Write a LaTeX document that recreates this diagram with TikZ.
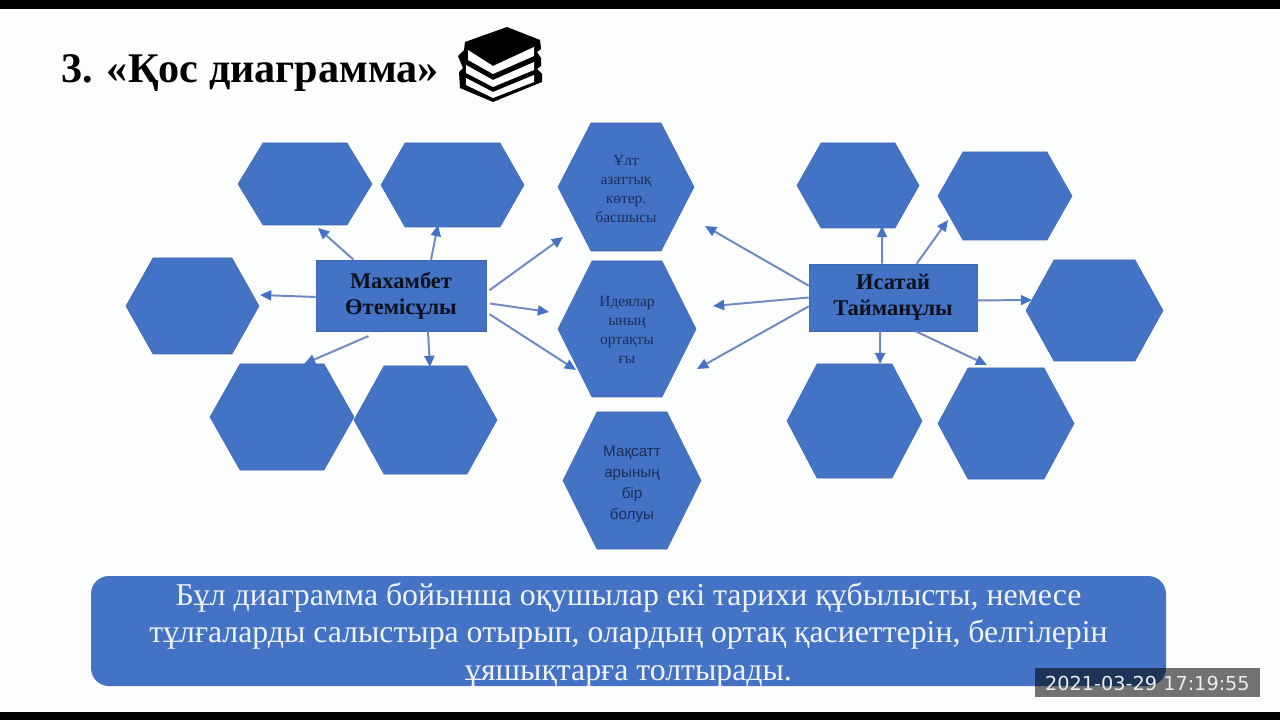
\documentclass[tikz,border=0pt]{standalone}
\usepackage{fontspec}
\setmainfont{Liberation Serif}
\newfontfamily\liberationsans{Liberation Sans}
\newfontfamily\stampfont{DejaVu Sans}
\usetikzlibrary{shapes.symbols, arrows.meta}
\definecolor{hexblue}{HTML}{4472C4}
\definecolor{hexedge}{HTML}{3F69B5}
\definecolor{linkblue}{HTML}{7089C0}
\definecolor{inktext}{HTML}{1B2F5E}
\definecolor{pagewhite}{HTML}{FCFEFD}
\tikzset{%
  every hexagon/.style={
    signal,
    signal to=east and west,
    draw=hexedge,
    fill=hexblue,
    inner sep=0pt,
    align=center
  },
  every namebox/.style={
    rectangle,
    draw=hexedge,
    fill=hexblue,
    align=center,
    text=black!85!hexblue,
    font=\fontsize{16pt}{18.5pt}\selectfont\bfseries
  },
  hexlabel/.style={
    align=center,
    text=inktext,
    font=\fontsize{11pt}{13.5pt}\selectfont
  },
  link/.style={
    -{Triangle[length=0.28cm, width=0.25cm, color=hexblue]},
    draw=linkblue,
    line width=1.4pt
  },
}

\begin{document}
\begin{tikzpicture}[x=0.025cm, y=-0.025cm]
\useasboundingbox (0,0) rectangle (1280,720);
\fill[pagewhite] (0,0) rectangle (1280,720);
\fill[black] (0,0) rectangle (1280,9);
\fill[black] (0,712) rectangle (1280,720);

\node [anchor=base west, inner sep=0pt, font=\fontsize{30pt}{32pt}\selectfont\bfseries] (title) at (61,83) {3. «Қос диаграмма»};

% Books
\fill[black] (465,42) -- (507,27) -- (540,40) -- (541,49) -- (537,52) -- (541,58) -- (541,66) -- (537,69) -- (542,74) -- (542,82) -- (493,102) -- (460,88) -- (459,72) -- (463,68) -- (458,56) -- (464,50) -- cycle;
\fill[white] (468,50) -- (493,66) -- (534,47) -- (534,56) -- (493,74) -- (468,60) -- cycle;
\fill[white] (466,65) -- (493,80) -- (534,62) -- (534,70) -- (493,87) -- (466,73) -- cycle;
\fill[white] (466,78) -- (493,92) -- (534,75) -- (534,82) -- (493,98) -- (466,85) -- cycle;

% Left hexagons
\foreach \m/\x/\y/\w/\h/\c in {1/305/184/134/82/25, 2/452.5/185/143/84/24, 3/192.5/306/133/96/27, 4/282/417/144/106/30, 5/425.5/420/143/108/30}
  \node [every hexagon, minimum width=\w*0.025cm, minimum height=\h*0.025cm, signal pointer angle={2*atan(\h/2/\c)}] (left-\m) at (\x,\y) {};

% Right hexagons
\foreach \m/\x/\y/\w/\h/\c in {1/858/185.5/122/85/24, 2/1005/196/134/88/25, 3/1094.5/310.5/137/101/28, 4/854.5/421/135/114/30, 5/1006/423.5/136/111/30}
  \node [every hexagon, minimum width=\w*0.025cm, minimum height=\h*0.025cm, signal pointer angle={2*atan(\h/2/\c)}] (right-\m) at (\x,\y) {};

% Middle hexagons
\foreach \m/\x/\y/\w/\h/\c in {1/626/187/136/128/33, 2/627/329/138/136/34, 3/632/480.5/138/137/34}
  \node [every hexagon, minimum width=\w*0.025cm, minimum height=\h*0.025cm, signal pointer angle={2*atan(\h/2/\c)}] (middle-\m) at (\x,\y) {};

\foreach \l/\x/\y [count=\m] in {Ұлт\\азаттық\\көтер.\\басшысы/626/189, Идеялар\\ының\\ортақты\\ғы/627/330}
  \node [hexlabel] (label-\m) at (\x,\y) {\l};
\node [hexlabel, font=\fontsize{10.8pt}{15pt}\liberationsans] (label-3) at (632,484) {Мақсатт\\арының\\бір\\болуы};

% Name boxes
\node [every namebox, minimum width=170*0.025cm, minimum height=71*0.025cm] (mahambet) at (401,295.5) {Махамбет\\Өтемісұлы};
\node [every namebox, minimum width=168*0.025cm, minimum height=67*0.025cm] (isatai) at (893,297.5) {Исатай\\Тайманұлы};

% ALL OF THE ARROWS
\foreach \a/\x/\y [count=\i] in {143/318/228, 50/438/225, 181/260/295, 307/430/367}{
  \coordinate (mahambet-tip-\i) at (\x,\y);
  \draw [link] (mahambet.\a) -- (mahambet-tip-\i);
}
\coordinate (mahambet-tip-5) at (304,364);
\draw [link, shorten <=0.3cm] (mahambet.239) -- (mahambet-tip-5);

\foreach \a/\x/\y [count=\i] in {2/563/237, 355/549/312, 349/576/370}{
  \coordinate (middle-tip-\i) at (\x,\y);
  \draw [link, shorten <=0.1cm] (mahambet.\a) -- (middle-tip-\i);
}

\foreach \a/\x/\y [count=\i] in {108/882/226, 55.5/948/220, 358/1032/300, 249/880/364, 304.5/987/365, 172/705/226, 180/713/306, 186/697/369}{
  \coordinate (isatai-tip-\i) at (\x,\y);
  \draw [link] (isatai.\a) -- (isatai-tip-\i);
}

% Bottom text
\node [rectangle, rounded corners=0.45cm, fill=hexblue, minimum width=1075*0.025cm, minimum height=110*0.025cm] (summary) at (628.5,631) {};
\node [align=center, text=white!92!hexblue, font=\fontsize{22.6pt}{26.6pt}\selectfont] (summary-text) at (628.5,635) {Бұл диаграмма бойынша оқушылар екі тарихи құбылысты, немесе\\тұлғаларды салыстыра отырып, олардың ортақ қасиеттерін, белгілерін\\ұяшықтарға толтырады.};

% Time stamp
\node [rectangle, fill=black, fill opacity=0.55, minimum width=225*0.025cm, minimum height=29*0.025cm] (stamp) at (1147.5,682.5) {};
\node [text=white!85!gray, inner sep=0pt, font=\fontsize{13.7pt}{15pt}\stampfont] (stamp-text) at (1147.5,683) {2021-03-29 17:19:55};

\end{tikzpicture}
\end{document}
